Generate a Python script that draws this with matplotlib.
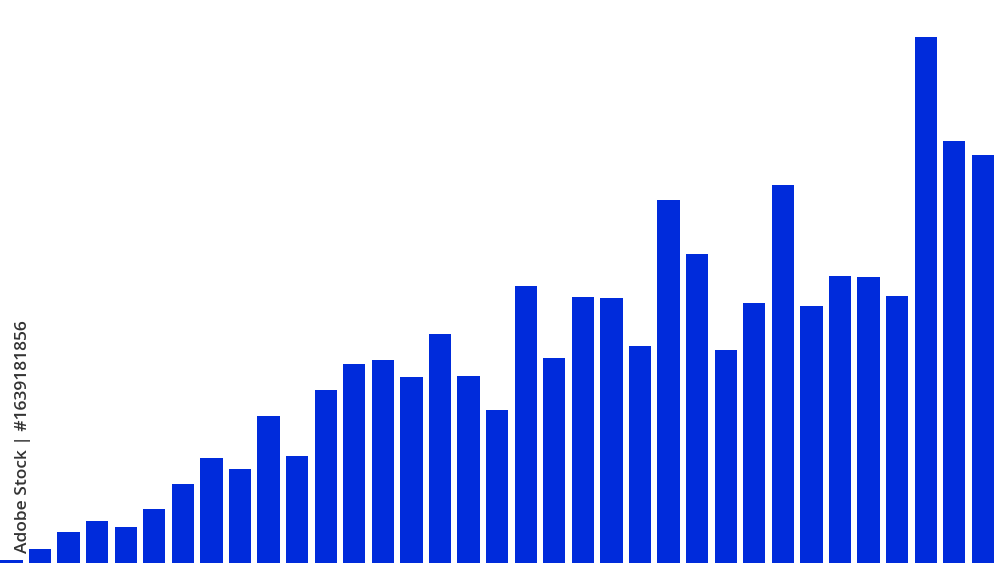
import matplotlib
matplotlib.use("Agg")
import matplotlib.pyplot as plt


# bar heights (pixels above the bottom edge)
bar_index = list(range(35))
bar_heights = [3, 14, 31, 42, 36, 54, 79, 105, 94, 147,
               107, 173, 199, 203, 186, 229, 187, 153, 277, 205,
               266, 265, 217, 363, 309, 213, 260, 378, 257, 287,
               286, 267, 526, 422, 408]

watermark = "Adobe Stock | #1639181856"

fig = plt.figure(figsize=(10, 5.63), dpi=100)
ax = fig.add_axes([0, 0, 1, 1])

ax.bar(bar_index, bar_heights, width=0.78, color="#002bdb")

ax.set_xlim(-0.4, 34.6)
ax.set_ylim(0, 563)
ax.axis("off")

fig.text(0.023, 0.018, watermark, rotation=90, ha="center", va="bottom",
         fontsize=12.5, color="#333333", family="Open Sans", fontweight="semibold")

fig.savefig("out.png", dpi=100, facecolor="white")
